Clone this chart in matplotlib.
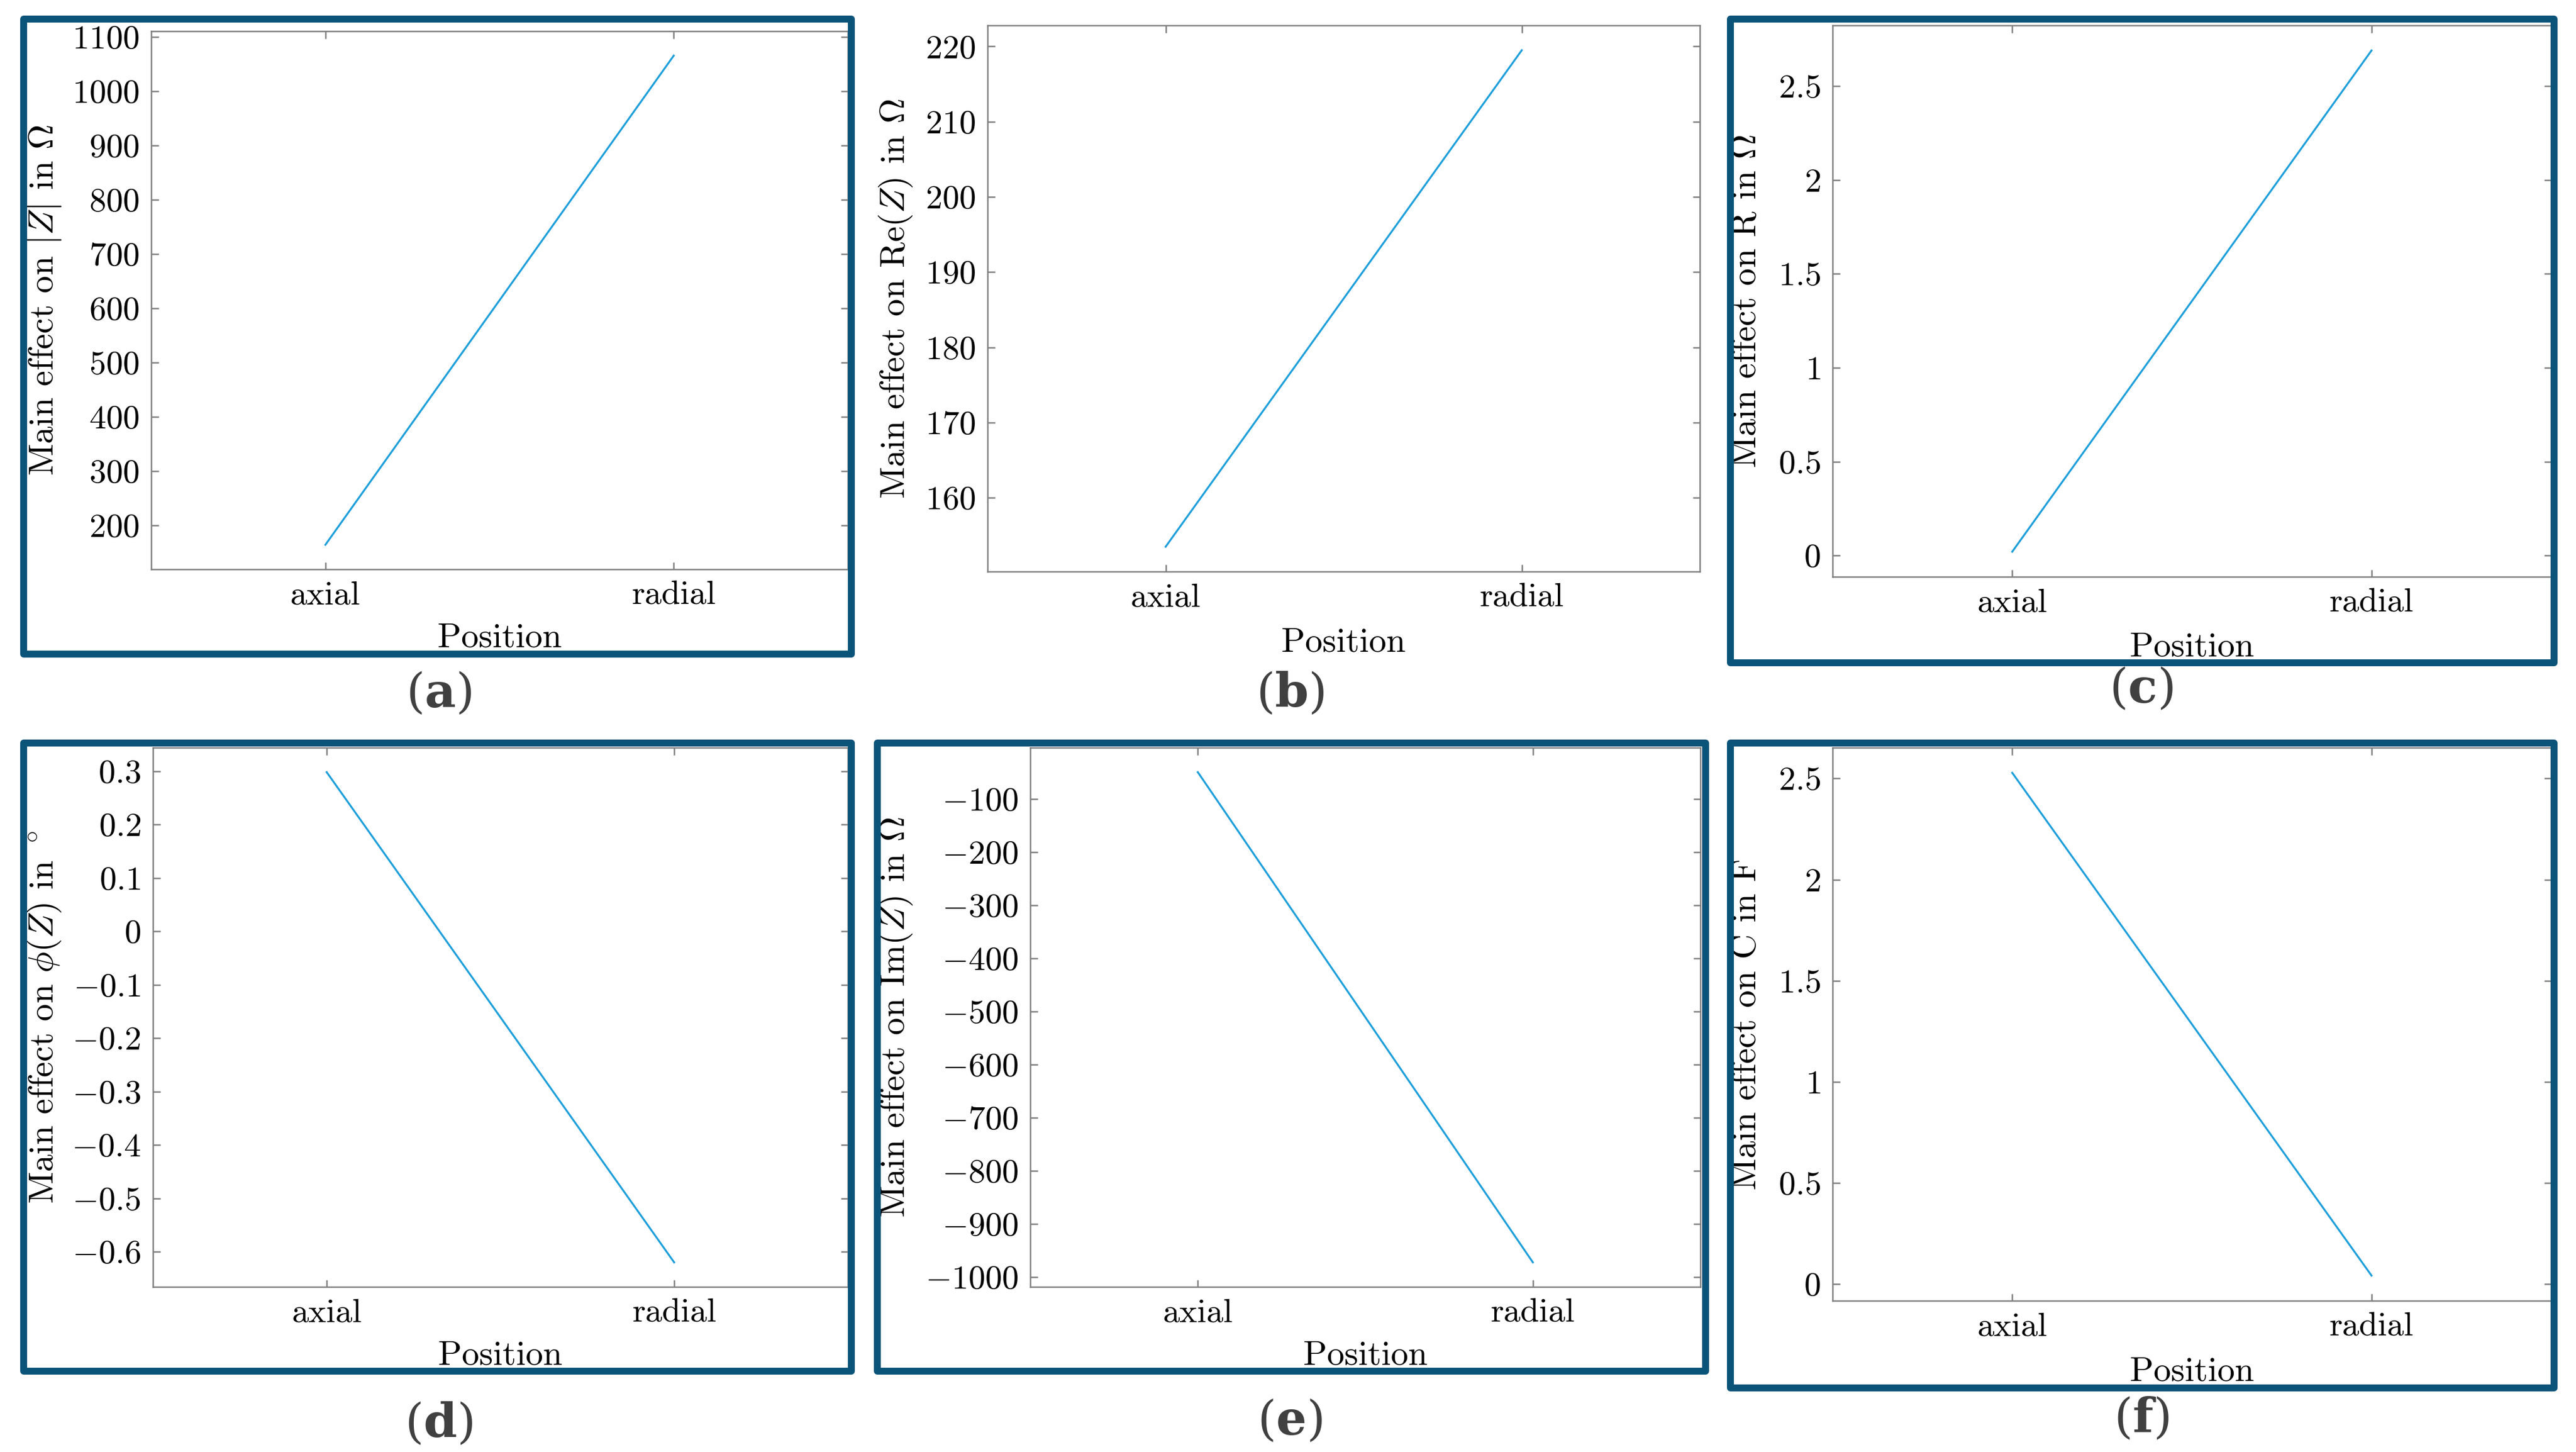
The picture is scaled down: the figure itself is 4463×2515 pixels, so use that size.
import numpy as np
import matplotlib
matplotlib.use('Agg')
import matplotlib.pyplot as plt
from matplotlib.patches import Rectangle
from matplotlib.ticker import MultipleLocator, FuncFormatter

# Main effects of sensor position on the impedance parameters
positions = ['axial', 'radial']
abs_z = [164.6, 1066.0]
re_z = [153.5, 219.5]
r_vals = [0.02, 2.69]
phi_z = [0.298, -0.62]
im_z = [-49.0, -972.0]
c_vals = [2.528, 0.042]

letters = ['a', 'b', 'c', 'd', 'e', 'f']
y_labels = [r'Main effect on $|Z|$ in $\Omega$',
            r'Main effect on Re$(Z)$ in $\Omega$',
            r'Main effect on R in $\Omega$',
            r'Main effect on $\phi(Z)$ in $^\circ$',
            r'Main effect on Im$(Z)$ in $\Omega$',
            'Main effect on C in F']
tick_steps = [100, 10, 0.5, 0.1, 100, 0.5]

plt.rcParams['font.family'] = 'serif'
plt.rcParams['font.serif'] = ['cmr10']
plt.rcParams['mathtext.fontset'] = 'cm'
plt.rcParams['axes.unicode_minus'] = False

W, H = 4463, 2515
DPI = 300
LINE_COLOR = '#1e9fdc'
BOX_COLOR = '#0b5479'
AXIS_COLOR = '#7f7f7f'

# pixel layout: axes (left, top, right, bottom), ylabel x, xlabel y, caption (x, y)
axes_px = [(262, 54, 1469, 986), (1711, 44, 2945, 990), (3175, 44, 4420, 999),
           (265, 1295, 1469, 2229), (1785, 1295, 2946, 2229), (3175, 1295, 4420, 2253)]
ylabel_x = [77, 1552, 3027, 77, 1552, 3027]
xlabel_y = [1106, 1114, 1122, 2349, 2349, 2377]
captions = [(760, 1202), (2235, 1202), (3710, 1194), (760, 2467), (2235, 2462), (3710, 2458)]
# panel frames (panel b has none)
frames = [(35, 27, 1481, 1139), None, (2992, 27, 4431, 1154),
          (35, 1281, 1481, 2381), (1514, 1281, 2961, 2381), (2992, 1281, 4431, 2410)]


def tick_fmt(v, pos):
    if abs(v) < 1e-9:
        v = 0
    return '$%s$' % ('%g' % round(v, 6))


def draw_panel(fig, i, values):
    l, t, r, b = axes_px[i]
    ax = fig.add_axes([l / W, 1 - b / H, (r - l) / W, (b - t) / H])
    x = np.arange(1, len(positions) + 1)
    ax.plot(x, values, color=LINE_COLOR, linewidth=0.8)
    ax.set_xlim(0.5, len(positions) + 0.5)
    ax.margins(y=0.05)
    ax.set_xticks(x)
    ax.set_xticklabels(positions)
    ax.yaxis.set_major_locator(MultipleLocator(tick_steps[i]))
    ax.yaxis.set_major_formatter(FuncFormatter(tick_fmt))
    ax.tick_params(direction='in', top=True, right=True, length=3, width=0.6,
                   color=AXIS_COLOR, labelsize=14, pad=5)
    for s in ax.spines.values():
        s.set_color(AXIS_COLOR)
        s.set_linewidth(0.6)
    ax.set_ylabel(y_labels[i], fontsize=14.5)
    ax.set_xlabel('Position', fontsize=14.5)
    ax.yaxis.set_label_coords((ylabel_x[i] - l) / (r - l), 0.5)
    ax.yaxis.label.set_va('center')
    ax.xaxis.set_label_coords(0.5, (b - xlabel_y[i]) / (b - t))
    ax.xaxis.label.set_va('center')

    cx, cy = captions[i]
    fig.text(cx / W, 1 - cy / H, r'($\mathbf{%s}$)' % letters[i], ha='center', va='center',
             fontsize=20, color='#404040', family='DejaVu Serif', math_fontfamily='dejavuserif')

    if frames[i] is not None:
        fl, ft, fr, fb = frames[i]
        lw = 12
        rect = Rectangle(((fl + lw / 2) / W, 1 - (fb - lw / 2) / H),
                         (fr - fl - lw) / W, (fb - ft - lw) / H,
                         transform=fig.transFigure, fill=False, edgecolor=BOX_COLOR,
                         linewidth=lw * 72 / DPI, joinstyle='round')
        fig.patches.append(rect)


fig = plt.figure(figsize=(W / DPI, H / DPI), dpi=DPI)
all_values = [abs_z, re_z, r_vals, phi_z, im_z, c_vals]
for i, vals in enumerate(all_values):
    draw_panel(fig, i, vals)

fig.savefig('out.png', dpi=DPI, facecolor='white')
